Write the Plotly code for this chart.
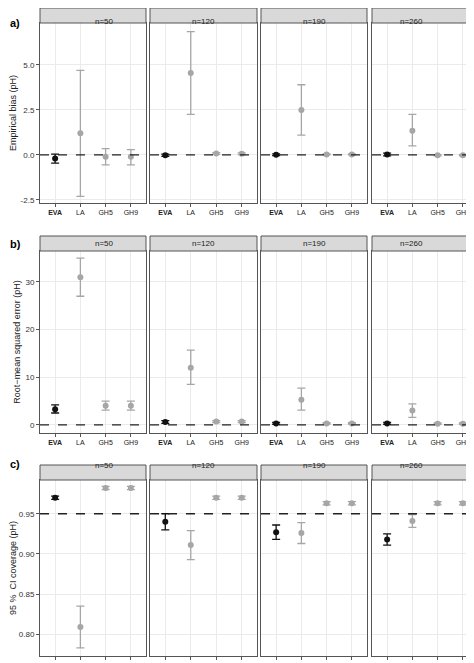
import plotly.graph_objects as go

W, H = 474, 663
methods = ["EVA", "LA", "GH5", "GH9"]
sizes = ["n=50", "n=120", "n=190", "n=260"]

# [size][method] -> (estimate, lower, upper)
bias = [
    [(-0.2, -0.45, 0.05), (1.2, -2.3, 4.7), (-0.1, -0.55, 0.35), (-0.1, -0.55, 0.3)],
    [(-0.02, -0.08, 0.04), (4.55, 2.25, 6.85), (0.08, 0.03, 0.13), (0.07, 0.02, 0.12)],
    [(0.01, -0.04, 0.06), (2.5, 1.1, 3.9), (0.03, 0.0, 0.06), (0.03, 0.0, 0.06)],
    [(0.03, -0.05, 0.1), (1.35, 0.5, 2.25), (-0.02, -0.05, 0.01), (-0.02, -0.05, 0.01)],
]
rmse = [
    [(3.3, 2.5, 4.2), (31, 27, 35), (4.0, 3.1, 5.0), (4.0, 3.1, 5.0)],
    [(0.6, 0.3, 0.9), (12, 8.5, 15.7), (0.7, 0.5, 0.9), (0.7, 0.5, 0.9)],
    [(0.3, 0.1, 0.5), (5.3, 3.1, 7.7), (0.3, 0.15, 0.45), (0.3, 0.15, 0.45)],
    [(0.3, 0.1, 0.5), (3.0, 1.6, 4.4), (0.25, 0.1, 0.4), (0.25, 0.1, 0.4)],
]
coverage = [
    [(0.970, 0.968, 0.972), (0.809, 0.783, 0.835), (0.982, 0.980, 0.984), (0.982, 0.980, 0.984)],
    [(0.940, 0.930, 0.950), (0.911, 0.893, 0.929), (0.970, 0.968, 0.972), (0.970, 0.968, 0.972)],
    [(0.927, 0.918, 0.936), (0.926, 0.913, 0.939), (0.963, 0.961, 0.965), (0.963, 0.961, 0.965)],
    [(0.918, 0.911, 0.925), (0.941, 0.933, 0.949), (0.963, 0.961, 0.965), (0.963, 0.961, 0.965)],
]

rows = [
    dict(data=bias, ref=0, label="a)", title="Empirical bias (pH)", rng=[-2.67, 7.33],
         ticks=[-2.5, 0, 2.5, 5], ticktext=["-2.5", "0.0", "2.5", "5.0"], top=15, bot=195),
    dict(data=rmse, ref=0, label="b)", title="Root\u2212mean squared error (pH)", rng=[-1.7, 36.5],
         ticks=[0, 10, 20, 30], ticktext=["0", "10", "20", "30"], top=243, bot=425),
    dict(data=coverage, ref=0.95, label="c)", title="95 %  CI coverage (pH)", rng=[0.773, 0.992],
         ticks=[0.80, 0.85, 0.90, 0.95], ticktext=["0.80", "0.85", "0.90", "0.95"], top=472, bot=648),
]
cols = [(32, 138), (142, 249), (253, 359), (364, 470)]
strip_h = 15

fig = go.Figure()
k = 0
for r, row in enumerate(rows):
    for c, (x0, x1) in enumerate(cols):
        k += 1
        xa = "x" if k == 1 else f"x{k}"
        ya = "y" if k == 1 else f"y{k}"
        for m, name in enumerate(methods):
            est, lo, hi = row["data"][c][m]
            col = "#111111" if m == 0 else "#a6a6a6"
            fig.add_trace(go.Scatter(
                x=[name], y=[est], mode="markers",
                marker=dict(color=col, size=6),
                error_y=dict(type="data", symmetric=False, array=[hi - est], arrayminus=[est - lo],
                             color=col, thickness=1.3, width=4),
                xaxis=xa, yaxis=ya, showlegend=False))
        fig.add_shape(type="line", xref=f"{xa} domain", yref=ya, x0=0, x1=1,
                      y0=row["ref"], y1=row["ref"], line=dict(color="#222", width=1.3, dash="dash"))
        # strip
        fig.add_shape(type="rect", xref="paper", yref="paper", x0=x0 / W, x1=x1 / W,
                      y0=1 - row["top"] / H, y1=1 - (row["top"] - strip_h) / H,
                      fillcolor="#d9d9d9", line=dict(color="#555", width=1))
        fig.add_annotation(text=sizes[c], xref="paper", yref="paper", x=(x0 + x1) / 2 / W,
                           y=1 - (row["top"] - strip_h / 2) / H, showarrow=False,
                           font=dict(size=8, color="#222"))
        fig.update_layout(**{
            ("xaxis" if k == 1 else f"xaxis{k}"): dict(
                domain=[x0 / W, x1 / W], anchor=ya, categoryorder="array", categoryarray=methods,
                range=[-0.6, 3.6], tickvals=methods, automargin=False,
                ticktext=["<b>EVA</b>", "LA", "GH5", "GH9"], tickfont=dict(size=7, color="#222"),
                showgrid=True, gridcolor="#ebebeb", showline=True, mirror=True,
                linecolor="#555", ticks="outside", ticklen=3, tickcolor="#555", zeroline=False),
            ("yaxis" if k == 1 else f"yaxis{k}"): dict(
                domain=[1 - row["bot"] / H, 1 - row["top"] / H], anchor=xa, range=row["rng"],
                tickvals=row["ticks"], ticktext=row["ticktext"], showticklabels=(c == 0),
                automargin=False,
                tickfont=dict(size=8, color="#333"), showgrid=True, gridcolor="#ebebeb",
                showline=True, mirror=True, linecolor="#555", ticks="outside" if c == 0 else "",
                ticklen=3, tickcolor="#555", zeroline=False,
                title=dict(text=row["title"], font=dict(size=9, color="#222"), standoff=3) if c == 0 else None),
        })
    fig.add_annotation(text=f"<b>{row['label']}</b>", xref="paper", yref="paper", x=0,
                       y=1 - (row["top"] - strip_h / 2) / H, xanchor="left", showarrow=False,
                       font=dict(size=11, color="black"))

fig.update_layout(width=W, height=H, margin=dict(l=0, r=0, t=0, b=0),
                  plot_bgcolor="white", paper_bgcolor="white",
                  font=dict(family="Liberation Sans, Arial, sans-serif"))
fig.write_html("out.html")
